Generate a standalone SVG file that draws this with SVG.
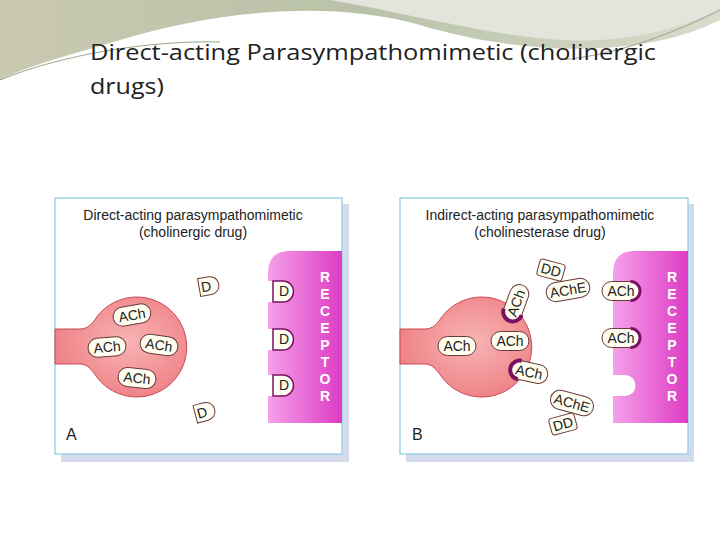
<svg xmlns="http://www.w3.org/2000/svg" width="720" height="540" viewBox="0 0 720 540">
<defs>
<linearGradient id="bg" x1="0" y1="0" x2="1" y2="0"><stop offset="0" stop-color="#c9c9b0"/><stop offset="0.5" stop-color="#b9c2a8"/><stop offset="1" stop-color="#d8dccb"/></linearGradient>
<radialGradient id="cell" cx="0.55" cy="0.45" r="0.6"><stop offset="0" stop-color="#f8b4b4"/><stop offset="1" stop-color="#ee7f84"/></radialGradient>
<linearGradient id="rec" x1="0" y1="0" x2="1" y2="0"><stop offset="0" stop-color="#f5a0ea"/><stop offset="1" stop-color="#dd3cc4"/></linearGradient>
<style>
.pill{fill:#fffef0;stroke:#6a3a3a;stroke-width:1}
.t{font-family:"Liberation Sans",Arial,sans-serif;fill:#222}
.lbl{font-size:14px;text-anchor:middle}
.rl{font-family:"Liberation Sans",Arial,sans-serif;font-weight:bold;font-size:14px;fill:#fff;text-anchor:middle}
.box{fill:#fff;stroke:#9fd3e6;stroke-width:1.5}
.sh{fill:#d4dceb}
</style>
</defs>
<rect width="720" height="540" fill="#fff"/>
<g id="decor">
<path d="M0,0 H720 V20 C640,60 520,55 420,25 C330,0 220,10 120,40 C70,55 30,65 0,80 Z" fill="url(#bg)"/>
<path d="M330,0 C420,15 520,45 600,40 C660,36 700,20 720,8 V0 Z" fill="#e4e4dc"/>
<path d="M0,80 C60,55 150,40 220,42" fill="none" stroke="#9aa68c" stroke-width="1"/>
<path d="M560,60 C620,55 680,30 720,10" fill="none" stroke="#9aa68c" stroke-width="1"/>
</g>
<text class="t" x="90" y="60" font-size="22" textLength="566" lengthAdjust="spacingAndGlyphs" fill="#333" style="font-family:'Open Sans',sans-serif">Direct-acting Parasympathomimetic (cholinergic</text>
<text class="t" x="90" y="94" font-size="22" fill="#333" style="font-family:'Open Sans',sans-serif" textLength="74" lengthAdjust="spacingAndGlyphs">drugs)</text>

<g id="panelA">
<rect class="sh" x="61" y="204" width="288" height="258"/>
<rect class="box" x="55" y="198" width="287" height="256"/>
<text class="t" x="193" y="220" font-size="14" text-anchor="middle">Direct-acting parasympathomimetic</text>
<text class="t" x="193" y="237" font-size="14" text-anchor="middle">(cholinergic drug)</text>
<path d="M55,329 H80 C86,329 90,326 94,321 A50,50 0 1 1 94,373 C90,368 86,364 80,364 H55 Z" fill="url(#cell)" stroke="#c84a55" stroke-width="1"/>
<path d="M342,251 H290 Q268,251 268,273 V281 H280 A10,10 0 0 1 280,302 H268 V329 H280 A10,10 0 0 1 280,350 H268 V375 H280 A10,10 0 0 1 280,396 H268 V423 H342 Z" fill="url(#rec)"/>
<g>
<text class="rl" x="325" y="282">R</text><text class="rl" x="325" y="299">E</text><text class="rl" x="325" y="316">C</text><text class="rl" x="325" y="333">E</text><text class="rl" x="325" y="350">P</text><text class="rl" x="325" y="367">T</text><text class="rl" x="325" y="384">O</text><text class="rl" x="325" y="401">R</text>
</g>
<g transform="translate(132,315) rotate(-10)"><rect class="pill" x="-19" y="-9.5" width="38" height="19" rx="9.5"/><text class="t lbl" y="5">ACh</text></g>
<g transform="translate(107,347) rotate(-5)"><rect class="pill" x="-19" y="-9.5" width="38" height="19" rx="9.5"/><text class="t lbl" y="5">ACh</text></g>
<g transform="translate(159,345) rotate(8)"><rect class="pill" x="-19" y="-9.5" width="38" height="19" rx="9.5"/><text class="t lbl" y="5">ACh</text></g>
<g transform="translate(137,378) rotate(6)"><rect class="pill" x="-19" y="-9.5" width="38" height="19" rx="9.5"/><text class="t lbl" y="5">ACh</text></g>
<g transform="translate(208,286) rotate(-10)"><path class="pill" d="M-9,-9 H2 A9,9 0 0 1 2,9 H-9 Z"/><text class="t lbl" x="-2" y="5">D</text></g>
<g transform="translate(204,412) rotate(-15)"><path class="pill" d="M-9,-9 H2 A9,9 0 0 1 2,9 H-9 Z"/><text class="t lbl" x="-2" y="5">D</text></g>
<g><path d="M273,281 H283 A10.5,10.5 0 0 1 283,302 H273 Z" fill="#fffef0" stroke="#7a1060" stroke-width="1.5"/><text class="t lbl" x="284" y="296">D</text></g>
<g><path d="M273,329 H283 A10.5,10.5 0 0 1 283,350 H273 Z" fill="#fffef0" stroke="#7a1060" stroke-width="1.5"/><text class="t lbl" x="284" y="344">D</text></g>
<g><path d="M273,375 H283 A10.5,10.5 0 0 1 283,396 H273 Z" fill="#fffef0" stroke="#7a1060" stroke-width="1.5"/><text class="t lbl" x="284" y="390">D</text></g>
<text class="t" x="66" y="440" font-size="16">A</text>
</g>

<g id="panelB">
<rect class="sh" x="406" y="204" width="288" height="258"/>
<rect class="box" x="400" y="198" width="288" height="256"/>
<text class="t" x="540" y="220" font-size="14" text-anchor="middle">Indirect-acting parasympathomimetic</text>
<text class="t" x="540" y="237" font-size="14" text-anchor="middle">(cholinesterase drug)</text>
<path d="M400,329 H425 C431,329 435,326 439,321 A50,50 0 1 1 439,373 C435,368 431,364 425,364 H400 Z" fill="url(#cell)" stroke="#c84a55" stroke-width="1"/>
<path d="M688,251 H635 Q613,251 613,273 V375 H625 A10,10 0 0 1 625,396 H613 V423 H688 Z" fill="url(#rec)"/>
<g>
<text class="rl" x="672" y="282">R</text><text class="rl" x="672" y="299">E</text><text class="rl" x="672" y="316">C</text><text class="rl" x="672" y="333">E</text><text class="rl" x="672" y="350">P</text><text class="rl" x="672" y="367">T</text><text class="rl" x="672" y="384">O</text><text class="rl" x="672" y="401">R</text>
</g>
<g transform="translate(551,270) rotate(15)"><rect class="pill" x="-13" y="-8.5" width="26" height="17" rx="3"/><text class="t lbl" y="5">DD</text></g>
<g transform="translate(568,290) rotate(-10)"><rect class="pill" x="-22" y="-9.5" width="44" height="19" rx="9.5"/><text class="t lbl" y="5">AChE</text></g>
<g transform="translate(516,303) rotate(-70)"><rect class="pill" x="-19" y="-9.5" width="38" height="19" rx="9.5" stroke="#7a1060"/><path d="M-19,0 A9.5,9.5 0 0 1 -9.5,-9.5 M-19,0 A9.5,9.5 0 0 0 -9.5,9.5" fill="none" stroke="#7a1060" stroke-width="4"/><text class="t lbl" y="5">ACh</text></g>
<g transform="translate(457,346)"><rect class="pill" x="-19" y="-9.5" width="38" height="19" rx="9.5"/><text class="t lbl" y="5">ACh</text></g>
<g transform="translate(510,341)"><rect class="pill" x="-19" y="-9.5" width="38" height="19" rx="9.5"/><text class="t lbl" y="5">ACh</text></g>
<g transform="translate(529,372) rotate(12)"><rect class="pill" x="-19" y="-9.5" width="38" height="19" rx="9.5" stroke="#7a1060"/><path d="M-9.5,-9.5 A9.5,9.5 0 0 0 -9.5,9.5" fill="none" stroke="#7a1060" stroke-width="4"/><text class="t lbl" y="5">ACh</text></g>
<g transform="translate(572,403) rotate(15)"><rect class="pill" x="-22" y="-9.5" width="44" height="19" rx="9.5"/><text class="t lbl" y="5">AChE</text></g>
<g transform="translate(563,424) rotate(-15)"><rect class="pill" x="-13" y="-8.5" width="26" height="17" rx="3"/><text class="t lbl" y="5">DD</text></g>
<g transform="translate(621,291)"><rect class="pill" x="-19" y="-9.5" width="38" height="19" rx="9.5"/><path d="M9.5,-9.5 A9.5,9.5 0 0 1 9.5,9.5" fill="none" stroke="#7a1060" stroke-width="3"/><text class="t lbl" y="5">ACh</text></g>
<g transform="translate(621,338)"><rect class="pill" x="-19" y="-9.5" width="38" height="19" rx="9.5"/><path d="M9.5,-9.5 A9.5,9.5 0 0 1 9.5,9.5" fill="none" stroke="#7a1060" stroke-width="3"/><text class="t lbl" y="5">ACh</text></g>
<text class="t" x="412" y="440" font-size="16">B</text>
</g>
</svg>
